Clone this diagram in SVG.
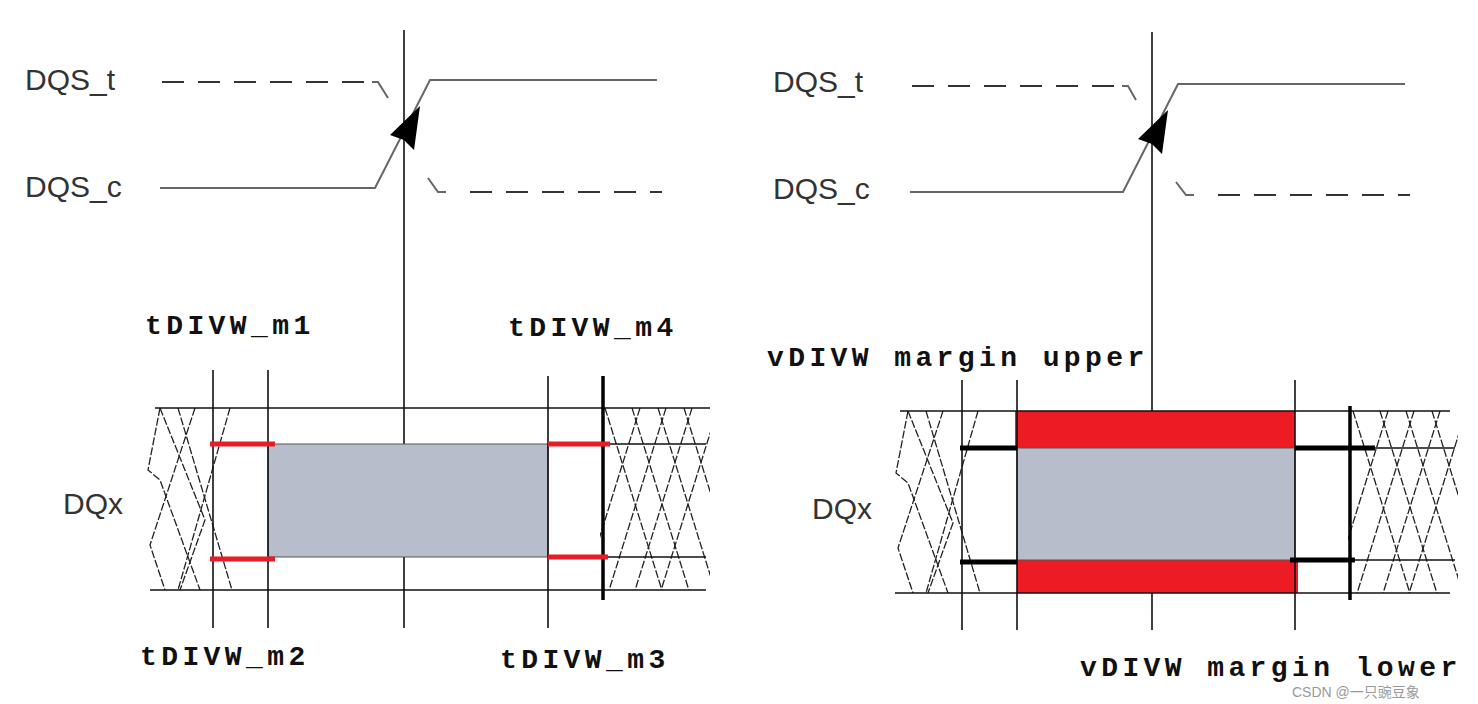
<svg xmlns="http://www.w3.org/2000/svg" width="1478" height="704" viewBox="0 0 1478 704">
<style>
.sig{fill:none;stroke:#666;stroke-width:2}
.dash{fill:none;stroke:#333;stroke-width:2;stroke-dasharray:22 14}
.ln{stroke:#111;stroke-width:1.6;fill:none}
.thk{stroke:#000;stroke-width:3.5}
.red{stroke:#e81c24;stroke-width:5}
.blk{stroke:#000;stroke-width:5}
.hx{fill:none;stroke:#222;stroke-width:1.3;stroke-dasharray:8 2}
.lab{font-family:"Liberation Sans",Arial,sans-serif;font-size:30px;fill:#333}
.mono{font-family:"Liberation Mono","Courier New",monospace;font-weight:bold;font-size:28px;letter-spacing:4.4px;fill:#111}
</style>
<defs>
  <clipPath id="cl"><rect x="145" y="408" width="90" height="182"/></clipPath>
  <clipPath id="cr"><rect x="600" y="408" width="110" height="182"/></clipPath>
</defs>
<rect width="1478" height="704" fill="#fff"/>
<g id="left">
  <g id="left-waves">
    <line class="ln" x1="404" y1="30" x2="404" y2="628"/>
    <polyline class="dash" points="162,82 372,82"/>
    <polyline class="sig" points="372,82 378,82 388,98"/>
    <polyline class="sig" points="160,188 375,188 430,80 657,80"/>
    <polyline class="sig" points="428,178 438,192 446,192"/>
    <line class="dash" x1="470" y1="192" x2="662" y2="192"/>
    <polygon points="420,106 414,150 404,140 390,135" fill="#000"/>
  </g>
  <g id="left-bus">
    <g id="left-hatch-l" clip-path="url(#cl)">
      <polyline class="hx" points="160,408 148,470 160,480 200,590"/>
      <polyline class="hx" points="195,408 150,545 165,590"/>
      <polyline class="hx" points="178,408 232,590"/>
      <polyline class="hx" points="230,408 178,590"/>
      <polyline class="hx" points="160,408 205,520 180,590"/>
    </g>
    <g id="left-hatch-r" clip-path="url(#cr)">
      <line class="hx" x1="605" y1="408" x2="665" y2="600"/>
      <line class="hx" x1="632" y1="408" x2="692" y2="600"/>
      <line class="hx" x1="658" y1="408" x2="718" y2="600"/>
      <line class="hx" x1="684" y1="408" x2="744" y2="600"/>
      <line class="hx" x1="640" y1="408" x2="580" y2="600"/>
      <line class="hx" x1="666" y1="408" x2="606" y2="600"/>
      <line class="hx" x1="692" y1="408" x2="632" y2="600"/>
      <line class="hx" x1="718" y1="408" x2="658" y2="600"/>
    </g>
    <line class="ln" x1="155" y1="408" x2="710" y2="408"/>
    <line class="ln" x1="150" y1="590" x2="706" y2="590"/>
    <line class="ln" x1="600" y1="444" x2="706" y2="444"/>
    <line class="ln" x1="600" y1="557" x2="706" y2="557"/>
    <rect x="268" y="444" width="280" height="113" fill="#b7bdca" stroke="#555" stroke-width="1"/>
    <line class="ln" x1="213" y1="370" x2="213" y2="628"/>
    <line class="ln" x1="268" y1="370" x2="268" y2="628"/>
    <line class="ln" x1="548" y1="376" x2="548" y2="628"/>
    <line class="thk" x1="603" y1="376" x2="603" y2="600"/>
    <line class="red" x1="210" y1="444" x2="275" y2="444"/>
    <line class="red" x1="210" y1="559" x2="275" y2="559"/>
    <line class="red" x1="548" y1="444" x2="610" y2="444"/>
    <line class="red" x1="548" y1="557" x2="608" y2="557"/>
  </g>
  <text class="lab" x="25" y="90">DQS_t</text>
  <text class="lab" x="25" y="197">DQS_c</text>
  <text class="lab" x="63" y="514">DQx</text>
  <text class="mono" x="145" y="334">tDIVW_m1</text>
  <text class="mono" x="508" y="336">tDIVW_m4</text>
  <text class="mono" x="140" y="665">tDIVW_m2</text>
  <text class="mono" x="500" y="668">tDIVW_m3</text>
</g>
<g id="right">
  <g id="right-waves">
    <line class="ln" x1="1152" y1="32" x2="1152" y2="630"/>
    <line class="dash" x1="912" y1="86" x2="1122" y2="86"/>
    <polyline class="sig" points="1122,86 1128,86 1136,100"/>
    <polyline class="sig" points="910,192 1123,192 1178,84 1405,84"/>
    <polyline class="sig" points="1176,182 1186,195 1194,195"/>
    <line class="dash" x1="1218" y1="195" x2="1410" y2="195"/>
    <polygon points="1168,110 1162,154 1152,144 1138,139" fill="#000"/>
  </g>
  <g id="right-bus">
    <g id="right-hatch-l" clip-path="url(#cl)" transform="translate(748,3)">
      <polyline class="hx" points="160,408 148,470 160,480 200,590"/>
      <polyline class="hx" points="195,408 150,545 165,590"/>
      <polyline class="hx" points="178,408 232,590"/>
      <polyline class="hx" points="230,408 178,590"/>
      <polyline class="hx" points="160,408 205,520 180,590"/>
    </g>
    <g id="right-hatch-r" clip-path="url(#cr)" transform="translate(748,3)">
      <line class="hx" x1="605" y1="408" x2="665" y2="600"/>
      <line class="hx" x1="632" y1="408" x2="692" y2="600"/>
      <line class="hx" x1="658" y1="408" x2="718" y2="600"/>
      <line class="hx" x1="684" y1="408" x2="744" y2="600"/>
      <line class="hx" x1="640" y1="408" x2="580" y2="600"/>
      <line class="hx" x1="666" y1="408" x2="606" y2="600"/>
      <line class="hx" x1="692" y1="408" x2="632" y2="600"/>
      <line class="hx" x1="718" y1="408" x2="658" y2="600"/>
    </g>
    <rect x="1015" y="411" width="280" height="37" fill="#ed1c24"/>
    <rect x="1017" y="560" width="281" height="33" fill="#ed1c24"/>
    <rect x="1017" y="448" width="278" height="112" fill="#b7bdca" stroke="#555" stroke-width="1"/>
    <line class="ln" x1="900" y1="411" x2="1450" y2="411"/>
    <line class="ln" x1="895" y1="593" x2="1450" y2="593"/>
    <line class="ln" x1="1350" y1="448" x2="1455" y2="448"/>
    <line class="ln" x1="1350" y1="560" x2="1455" y2="560"/>
    <line class="ln" x1="962" y1="380" x2="962" y2="630"/>
    <line class="ln" x1="1017" y1="380" x2="1017" y2="630"/>
    <line class="ln" x1="1295" y1="380" x2="1295" y2="630"/>
    <line class="thk" x1="1350" y1="406" x2="1350" y2="600"/>
    <line class="blk" x1="960" y1="448" x2="1017" y2="448"/>
    <line class="blk" x1="1295" y1="448" x2="1375" y2="448"/>
    <line class="blk" x1="960" y1="562" x2="1017" y2="562"/>
    <line class="blk" x1="1290" y1="560" x2="1355" y2="560"/>
  </g>
  <text class="lab" x="773" y="92">DQS_t</text>
  <text class="lab" x="773" y="199">DQS_c</text>
  <text class="lab" x="812" y="519">DQx</text>
  <text class="mono" x="767" y="366">vDIVW margin upper</text>
  <text class="mono" x="1080" y="676">vDIVW margin lower</text>
</g>
<text x="1292" y="697" font-family="'Liberation Sans','Noto Sans CJK SC',sans-serif" font-size="14" fill="#999">CSDN @一只豌豆象</text>
</svg>
